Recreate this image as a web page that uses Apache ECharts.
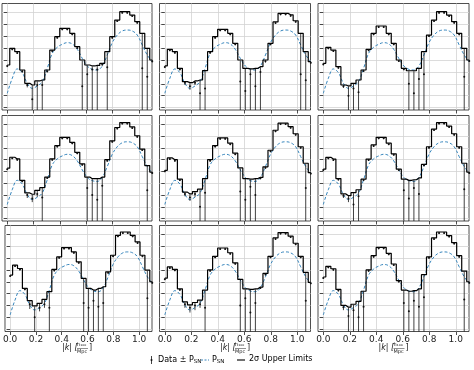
<!DOCTYPE html>
<html><head><meta charset="utf-8">
<script src="https://cdn.jsdelivr.net/npm/echarts@6/dist/echarts.min.js"></script>
<style>html,body{margin:0;padding:0;background:#fff}#c{width:474px;height:370px}</style>
</head><body><div id="c"></div>
<script>
// bin centres |k| [h/Mpc]
const kBins = [0.000,0.038,0.076,0.114,0.152,0.190,0.228,0.266,0.304,0.342,0.380,0.418,0.456,0.494,0.532,0.570,0.608,0.646,0.684,0.722,0.760,0.798,0.836,0.874,0.912,0.950,0.988,1.026,1.064,1.102];
const xTicks = [0.0,0.2,0.4,0.6,0.8,1.0];
const xTickLabels = ['0.0','0.2','0.4','0.6','0.8','1.0'];
const yGrid = [0.2,1.2,2.2,3.2,4.2,5.2,6.2,7.2,8.2];
// shot-noise power P_SN (log units)
const psn = [1.40,2.66,3.45,3.14,2.24,1.82,2.02,2.38,3.50,4.76,5.27,5.52,5.66,5.55,5.10,4.34,3.70,3.42,3.36,3.70,4.62,5.66,6.30,6.64,6.72,6.64,6.30,5.46,4.62,4.06];

// 2-sigma upper limits (step line), one array per panel
const up1 = [3.78,5.18,4.90,3.36,2.24,2.10,2.44,2.52,3.36,5.04,6.16,6.86,6.86,6.44,5.32,4.20,3.78,3.70,3.75,3.92,4.90,6.16,7.56,8.26,8.26,7.98,7.42,6.44,5.18,4.20];
const up2 = [3.70,5.10,4.90,3.50,2.38,2.30,2.44,2.52,3.31,4.90,6.16,6.78,6.78,6.44,5.60,4.20,3.50,3.45,3.50,3.64,4.20,5.60,7.40,8.12,8.12,8.00,7.50,6.44,4.90,4.06];
const up3 = [3.92,5.27,5.04,3.64,2.10,2.02,2.24,2.52,3.36,5.10,6.44,7.06,7.06,6.44,5.60,4.20,3.50,3.30,3.30,3.50,4.90,6.30,7.56,8.26,8.26,7.98,7.42,6.44,5.18,4.20];
const up4 = [4.48,5.41,5.27,3.45,2.38,2.27,2.60,2.83,3.73,5.27,6.39,7.09,7.09,6.67,5.83,4.85,3.73,3.59,3.59,3.73,5.20,6.80,7.93,8.35,8.35,7.98,7.23,6.10,4.70,4.15];
const up5 = [4.30,5.35,5.20,3.55,2.45,2.30,2.50,2.70,3.60,5.20,6.40,7.05,7.05,6.60,5.75,4.50,3.60,3.55,3.60,3.70,4.60,6.00,7.70,8.30,8.30,8.00,7.40,6.30,4.90,4.10];
const up6 = [4.40,5.40,5.25,3.60,2.30,2.15,2.40,2.65,3.55,5.25,6.45,7.10,7.10,6.60,5.70,4.40,3.55,3.45,3.50,3.65,4.80,6.30,7.80,8.35,8.35,8.05,7.40,6.30,4.90,4.15];
const up7 = [4.76,5.60,5.32,3.64,2.60,2.16,2.38,2.72,3.36,5.24,6.30,7.09,7.09,6.72,5.88,4.48,3.64,3.50,3.64,3.78,5.04,6.44,8.12,8.40,8.40,8.12,7.56,6.44,5.18,4.20];
const up8 = [4.50,5.45,5.25,3.60,2.50,2.25,2.45,2.65,3.50,5.20,6.35,7.05,7.05,6.65,5.80,4.40,3.60,3.55,3.60,3.75,4.90,6.35,7.90,8.35,8.35,8.05,7.45,6.35,5.00,4.15];
const up9 = [4.60,5.50,5.30,3.55,2.20,2.05,2.30,2.55,3.40,5.20,6.40,7.10,7.10,6.60,5.70,4.30,3.50,3.40,3.45,3.60,4.80,6.30,7.90,8.40,8.40,8.10,7.50,6.40,5.10,4.20];

// data points (dot) with error-bar ends (lo, hi); lo = 0 means the bar runs off the bottom
const dot1 = [3.70,5.10,4.80,3.25,2.10,0.90,2.10,2.10,3.25,4.95,6.08,6.78,6.78,6.36,5.22,2.00,3.00,3.40,3.40,3.82,3.60,6.08,7.48,8.18,8.18,7.90,7.34,3.50,2.80,4.10];
const lo1  = [3.60,5.02,4.72,3.15,1.90,0,0,0,3.15,4.86,6.00,6.70,6.70,6.28,5.14,0,0,0,0,3.72,0,6.00,7.40,8.10,8.10,7.82,7.26,0,0,4.00];
const hi1  = [3.76,5.16,4.88,3.33,2.20,2.08,2.40,2.48,3.33,5.02,6.14,6.84,6.84,6.42,5.30,4.15,3.75,3.66,3.72,3.90,4.85,6.14,7.54,8.24,8.24,7.96,7.40,6.40,5.14,4.18];
const dot2 = [3.62,5.02,4.82,3.42,2.28,2.00,2.30,1.40,1.80,4.82,6.08,6.70,6.70,6.36,5.52,2.40,1.60,3.00,2.00,3.20,4.10,5.52,7.32,8.04,8.04,7.92,7.42,3.00,2.50,3.98];
const lo2  = [3.52,4.94,4.74,3.32,2.10,1.70,2.10,0,0,4.74,6.00,6.62,6.62,6.28,5.44,0,0,0,0,0,3.98,5.44,7.24,7.96,7.96,7.84,7.34,0,0,3.90];
const hi2  = [3.68,5.08,4.88,3.48,2.36,2.26,2.42,2.48,3.28,4.88,6.14,6.76,6.76,6.42,5.58,4.16,3.46,3.42,3.46,3.60,4.18,5.58,7.38,8.10,8.10,7.98,7.48,6.40,4.86,4.04];
const dot3 = [3.84,5.19,4.96,3.56,2.00,1.20,1.80,1.50,3.28,5.02,6.36,6.98,6.98,6.36,5.52,4.12,3.42,2.20,1.40,2.60,3.00,6.22,7.48,8.18,8.18,7.90,7.34,6.36,2.80,4.12];
const lo3  = [3.74,5.11,4.88,3.46,1.85,0,0,0,3.20,4.94,6.28,6.90,6.90,6.28,5.44,4.04,3.34,0,0,0,0,6.14,7.40,8.10,8.10,7.82,7.26,6.28,0,4.04];
const hi3  = [3.90,5.25,5.02,3.62,2.08,2.00,2.20,2.48,3.34,5.08,6.42,7.04,7.04,6.42,5.58,4.18,3.48,3.26,3.26,3.46,4.86,6.28,7.54,8.24,8.24,7.96,7.40,6.42,5.16,4.18];
const dot4 = [4.40,5.33,5.19,3.37,2.20,1.90,2.30,2.00,3.65,5.19,6.31,7.01,7.01,6.59,5.75,4.77,2.80,2.20,1.80,3.00,5.12,6.72,7.85,8.27,8.27,7.90,7.15,6.02,2.60,4.07];
const lo4  = [4.32,5.25,5.11,3.29,1.95,1.60,2.05,0,3.57,5.11,6.23,6.93,6.93,6.51,5.67,4.69,0,0,0,0,5.04,6.64,7.77,8.19,8.19,7.82,7.07,5.94,0,3.99];
const hi4  = [4.46,5.39,5.25,3.43,2.34,2.22,2.56,2.80,3.70,5.25,6.37,7.07,7.07,6.65,5.81,4.83,3.70,3.56,3.56,3.70,5.18,6.78,7.91,8.33,8.33,7.96,7.21,6.08,4.66,4.13];
const dot5 = [4.22,5.27,5.12,3.47,2.30,2.00,2.30,1.20,2.40,5.12,6.32,6.97,6.97,6.52,5.67,2.50,1.80,2.90,2.20,3.62,4.52,5.92,7.62,8.22,8.22,7.92,7.32,6.22,2.80,4.02];
const lo5  = [4.14,5.19,5.04,3.39,2.10,1.70,2.05,0,0,5.04,6.24,6.89,6.89,6.44,5.59,0,0,0,0,3.54,4.44,5.84,7.54,8.14,8.14,7.84,7.24,6.14,0,3.94];
const hi5  = [4.28,5.33,5.18,3.53,2.42,2.26,2.46,2.66,3.56,5.18,6.38,7.03,7.03,6.58,5.73,4.46,3.56,3.52,3.56,3.68,4.58,5.98,7.68,8.28,8.28,7.98,7.38,6.28,4.86,4.08];
const dot6 = [4.32,5.32,5.17,3.52,2.15,1.90,1.40,2.10,3.47,5.17,6.37,7.02,7.02,6.52,5.62,4.32,2.60,1.90,2.80,2.30,4.72,6.22,7.72,8.27,8.27,7.97,7.32,6.22,2.70,4.07];
const lo6  = [4.24,5.24,5.09,3.44,1.95,1.60,0,0,3.39,5.09,6.29,6.94,6.94,6.44,5.54,4.24,0,0,0,0,4.64,6.14,7.64,8.19,8.19,7.89,7.24,6.14,0,3.99];
const hi6  = [4.38,5.38,5.23,3.58,2.28,2.12,2.36,2.62,3.52,5.23,6.43,7.08,7.08,6.58,5.68,4.38,3.52,3.42,3.46,3.62,4.78,6.28,7.78,8.33,8.33,8.03,7.38,6.28,4.86,4.13];
const dot7 = [4.68,5.52,5.24,3.56,2.30,1.20,2.00,2.30,2.00,5.16,6.22,7.01,7.01,6.64,5.80,2.40,2.00,2.60,2.10,2.40,4.96,6.36,8.04,8.32,8.32,8.04,7.48,6.36,2.80,4.12];
const lo7  = [4.60,5.44,5.16,3.48,1.90,0,1.70,2.00,0,5.08,6.14,6.93,6.93,6.56,5.72,0,0,0,0,0,4.88,6.28,7.96,8.24,8.24,7.96,7.40,6.28,0,4.04];
const hi7  = [4.74,5.58,5.30,3.62,2.56,2.12,2.34,2.68,3.32,5.22,6.28,7.07,7.07,6.70,5.86,4.44,3.60,3.46,3.60,3.74,5.02,6.42,8.10,8.38,8.38,8.10,7.54,6.42,5.14,4.18];
const dot8 = [4.42,5.37,5.17,3.52,2.30,2.00,2.20,2.30,2.00,5.12,6.27,6.97,6.97,6.57,5.72,2.20,2.80,1.60,2.40,3.67,4.82,6.27,7.82,8.27,8.27,7.97,7.37,6.27,2.60,4.07];
const lo8  = [4.34,5.29,5.09,3.44,2.00,1.60,1.80,2.00,0,5.04,6.19,6.89,6.89,6.49,5.64,0,0,0,0,3.59,4.74,6.19,7.74,8.19,8.19,7.89,7.29,6.19,0,3.99];
const hi8  = [4.48,5.43,5.23,3.58,2.46,2.22,2.42,2.62,3.46,5.18,6.33,7.03,7.03,6.63,5.78,4.36,3.56,3.52,3.56,3.72,4.88,6.33,7.88,8.33,8.33,8.03,7.43,6.33,4.96,4.13];
const dot9 = [4.52,5.42,5.22,3.47,2.05,1.30,1.80,1.20,2.10,5.12,6.32,7.02,7.02,6.52,5.62,4.22,2.40,1.70,2.60,2.10,2.90,6.22,7.82,8.32,8.32,8.02,7.42,6.32,2.70,4.12];
const lo9  = [4.44,5.34,5.14,3.39,1.80,0,0,0,0,5.04,6.24,6.94,6.94,6.44,5.54,4.14,0,0,0,0,0,6.14,7.74,8.24,8.24,7.94,7.34,6.24,0,4.04];
const hi9  = [4.58,5.48,5.28,3.53,2.18,2.02,2.26,2.52,3.36,5.18,6.38,7.08,7.08,6.58,5.68,4.26,3.46,3.36,3.42,3.56,4.76,6.28,7.88,8.38,8.38,8.08,7.48,6.38,5.06,4.18];

const panels = [
  {up:up1,dot:dot1,lo:lo1,hi:hi1},{up:up2,dot:dot2,lo:lo2,hi:hi2},{up:up3,dot:dot3,lo:lo3,hi:hi3},
  {up:up4,dot:dot4,lo:lo4,hi:hi4},{up:up5,dot:dot5,lo:lo5,hi:hi5},{up:up6,dot:dot6,lo:lo6,hi:hi6},
  {up:up7,dot:dot7,lo:lo7,hi:hi7},{up:up8,dot:dot8,lo:lo8,hi:hi8},{up:up9,dot:dot9,lo:lo9,hi:hi9}
];

const colL = [2,159.5,318], colW = [150,151,151];
const rowT = [3.5,115.5,225.5], rowH = [106.5,105.5,106];
const YMAX = 8.95;

const chart = echarts.init(document.getElementById('c'), null, {renderer:'canvas'});
const grid=[], xAxis=[], yAxis=[], series=[];
panels.forEach((p,i)=>{
  const r=Math.floor(i/3), c=i%3;
  grid.push({left:colL[c], top:rowT[r], width:colW[c], height:rowH[r], show:true, borderColor:'#222', borderWidth:0.8, backgroundColor:'transparent'});
  xAxis.push({type:'value', gridIndex:i, min:-0.04, max:1.1,
    axisLine:{show:false},
    axisTick:{show:true, inside:false, length:3.5, lineStyle:{color:'#222',width:0.8}, customValues:xTicks},
    axisLabel:{show:r===2, customValues:xTicks, formatter:v=>xTickLabels[xTicks.indexOf(Math.round(v*10)/10)]||'', color:'#222', fontSize:9, fontFamily:'DejaVu Sans', margin:4},
    splitLine:{show:true, lineStyle:{color:'#d3d3d3', width:0.8}}});
  yAxis.push({type:'value', gridIndex:i, min:0, max:YMAX,
    axisLine:{show:false},
    axisTick:{show:true, length:3.5, lineStyle:{color:'#222',width:0.8}, customValues:yGrid},
    axisLabel:{show:false},
    splitLine:{show:true, lineStyle:{color:'#d3d3d3', width:0.8}}});
  series.push({type:'line', xAxisIndex:i, yAxisIndex:i, step:'middle', symbol:'none',
    data:kBins.map((k,j)=>[k,p.up[j]]), lineStyle:{color:'#000',width:1.2}, z:3, silent:true, animation:false});
  series.push({type:'line', xAxisIndex:i, yAxisIndex:i, smooth:0.4, symbol:'none',
    data:kBins.map((k,j)=>[k,psn[j]]), lineStyle:{color:'#1f77b4',width:0.9,type:[3,2]}, z:2, silent:true, animation:false});
  series.push({type:'custom', xAxisIndex:i, yAxisIndex:i, silent:true, animation:false, z:4,
    data:kBins.map((k,j)=>[k,p.dot[j],p.lo[j],p.hi[j]]),
    renderItem:(params,api)=>{
      const x=api.value(0);
      const pd=api.coord([x,api.value(1)]), pl=api.coord([x,api.value(2)]), ph=api.coord([x,api.value(3)]);
      return {type:'group',children:[
        {type:'line',shape:{x1:pl[0],y1:pl[1],x2:ph[0],y2:ph[1]},style:{stroke:'#111',lineWidth:0.8}},
        {type:'circle',shape:{cx:pd[0],cy:pd[1],r:1},style:{fill:'#111'}}
      ]};
    }});
});

const graphic=[];
const centers=[77,235,393.5];
centers.forEach(cx=>{
  graphic.push({type:'group', left:cx-15, top:342, children:[
    {type:'text', x:0, y:0, style:{text:'|k| [', font:'italic 8px DejaVu Sans', fill:'#222'}},
    {type:'text', x:15, y:-2, style:{text:'h₁₀₀', font:'5px DejaVu Sans', fill:'#222'}},
    {type:'line', shape:{x1:15,y1:4.5,x2:26,y2:4.5}, style:{stroke:'#222',lineWidth:0.5}},
    {type:'text', x:15, y:5, style:{text:'Mpc', font:'5px DejaVu Sans', fill:'#222'}},
    {type:'text', x:27, y:0, style:{text:']', font:'8px DejaVu Sans', fill:'#222'}}
  ]});
});
// legend
const rich={n:{fontSize:8,fontFamily:'DejaVu Sans',color:'#222'},s:{fontSize:5.5,fontFamily:'DejaVu Sans',color:'#222',padding:[4,0,0,0]}};
graphic.push({type:'line', shape:{x1:151.5,y1:356,x2:151.5,y2:364}, style:{stroke:'#111',lineWidth:0.8}});
graphic.push({type:'circle', shape:{cx:151.5,cy:360,r:1}, style:{fill:'#111'}});
graphic.push({type:'text', x:158, y:355, style:{text:'{n|Data ± P}{s|SN}', rich}});
graphic.push({type:'line', shape:{x1:201,y1:360,x2:209,y2:360}, style:{stroke:'#1f77b4',lineWidth:0.9,lineDash:[2,1.5]}});
graphic.push({type:'text', x:212, y:355, style:{text:'{n|P}{s|SN}', rich}});
graphic.push({type:'line', shape:{x1:237,y1:360,x2:245,y2:360}, style:{stroke:'#111',lineWidth:1.2}});
graphic.push({type:'text', x:249, y:355, style:{text:'{n|2σ Upper Limits}', rich}});

chart.setOption({animation:false, grid, xAxis, yAxis, series, graphic});
</script></body></html>
